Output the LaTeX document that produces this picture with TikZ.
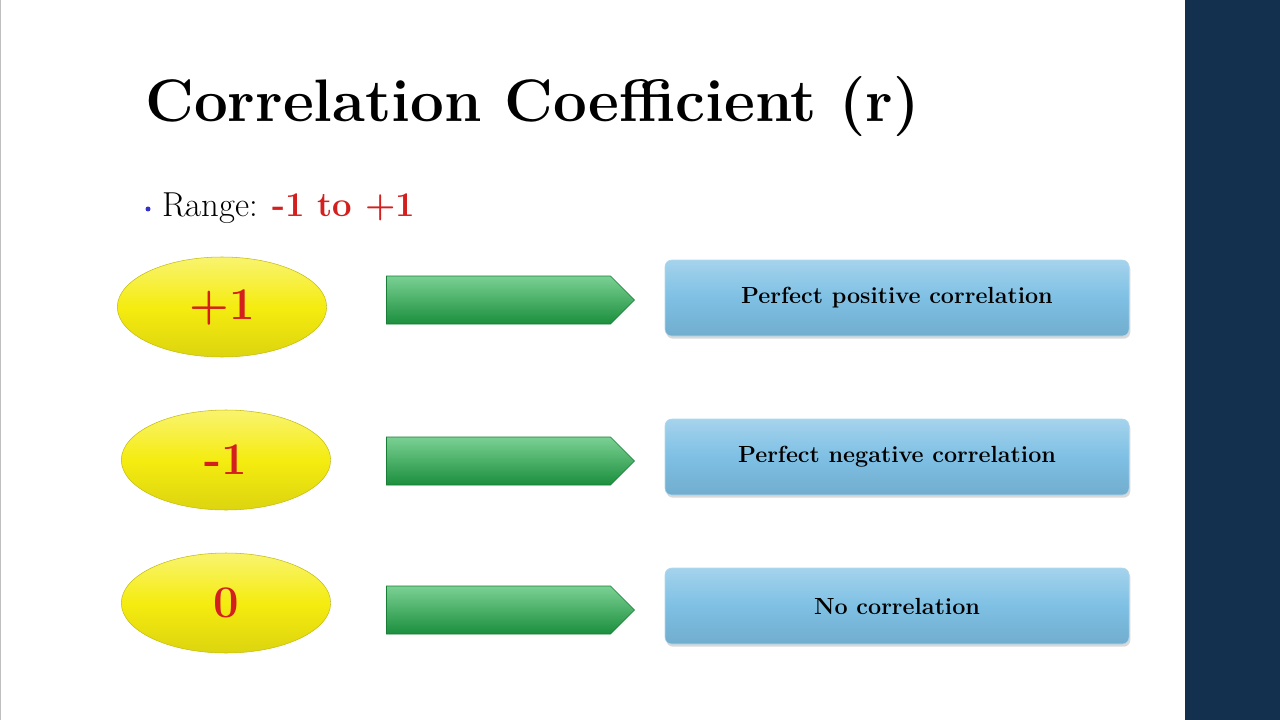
\documentclass[tikz,border=0pt]{standalone}
\usetikzlibrary{shapes.geometric,shapes.arrows,shadows}
\definecolor{navy}{HTML}{14304F}
\definecolor{yel}{HTML}{F5EC10}
\definecolor{grn}{HTML}{22B24C}
\definecolor{bluebox}{HTML}{7EC0E4}
\definecolor{redt}{HTML}{D41F1F}
\begin{document}
\begin{tikzpicture}[x=0.75pt,y=-0.75pt,
  oval/.style={ellipse,minimum width=157pt,minimum height=75pt,inner sep=0pt,
    top color=yel!60!white,bottom color=yel!90!black,middle color=yel,draw=yel!80!black,
    text=redt,font=\fontsize{34}{40}\selectfont\bfseries},
  garrow/.style={single arrow,minimum height=186pt,minimum width=36pt,single arrow head extend=0pt,
    inner sep=0pt,top color=grn!60!white,bottom color=grn!80!black,draw=grn!70!black,
    shape border rotate=0,single arrow tip angle=90},
  bbox/.style={rectangle,rounded corners=5pt,minimum width=348pt,minimum height=57pt,
    top color=bluebox!70!white,bottom color=bluebox!90!black,middle color=bluebox,draw=bluebox!60!white,
    drop shadow={shadow xshift=1pt,shadow yshift=-2pt,opacity=0.3},
    font=\fontsize{17.5}{20}\selectfont\bfseries}]
\useasboundingbox (0,0) rectangle (1280,720);
\fill[white] (0,0) rectangle (1280,720);
\fill[navy] (1185,0) rectangle (1280,720);
\draw[gray!50] (0.5,0) -- (0.5,720);
\node[anchor=base west,inner sep=0pt,font=\fontsize{45}{50}\selectfont\bfseries] (title) at (145,122) {Correlation Coefficient (r)};
\fill[blue!60!gray] (148,209) circle (2.5);
\node[anchor=base west,inner sep=0pt,font=\fontsize{26}{30}\selectfont] (range) at (162,217) {Range: \textcolor{redt}{\bfseries -1 to +1}};
\foreach \i/\yo/\ya/\yb/\num/\txt/\ox in {1/307/300/298/+1/Perfect positive correlation/222,2/460/461/457/-1/Perfect negative correlation/226,3/603/610/606/0/No correlation/226}{
  \node[oval] (o\i) at (\ox,\yo) {\num};
  \node[garrow] (a\i) at (498.5,\ya) {};
  \node[bbox] (b\i) at (897,\yb) {\txt};
}
\end{tikzpicture}
\end{document}
